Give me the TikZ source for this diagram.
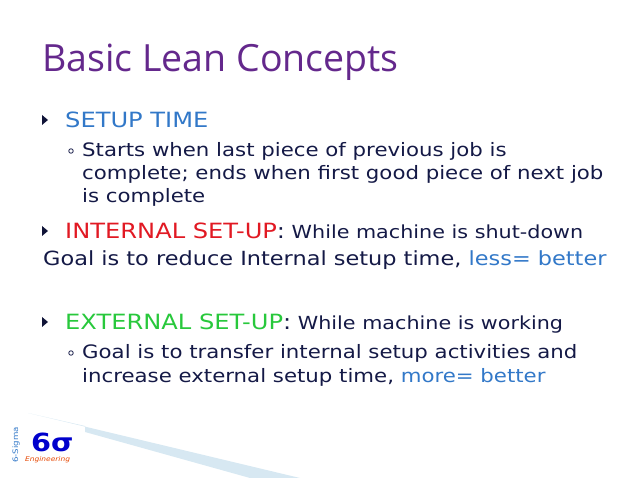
\documentclass[tikz,border=0pt]{standalone}
\usepackage{fontspec}
\setmainfont{DejaVu Sans}[FakeStretch=1.15]
\newfontfamily\titlefont{Open Sans}
\definecolor{ttl}{RGB}{100,40,140}
\definecolor{navy}{RGB}{20,25,70}
\definecolor{sblue}{RGB}{50,120,200}
\definecolor{sred}{RGB}{225,25,35}
\definecolor{sgreen}{RGB}{40,200,60}
\definecolor{swoosh}{RGB}{215,232,242}
\begin{document}
\begin{tikzpicture}[x=1pt,y=-1pt,
  big/.style={anchor=base west,inner sep=0,font=\fontsize{21}{26}\selectfont},
  sm/.style={anchor=base west,inner sep=0,font=\fontsize{18.5}{23}\selectfont,text=navy},
  arr/.style={fill=navy!80!black}]
\useasboundingbox (0,0) rectangle (638,478);
\fill[swoosh] (28,413) -- (300,478) -- (250,478) -- (85,432) -- (85,426) -- cycle;
\node[anchor=base west,inner sep=0,text=ttl,font=\titlefont\fontsize{37.5}{40}\selectfont] (title) at (42,72) {Basic Lean Concepts};
% bullets
\foreach \y/\n in {128/b1,239/b2,330/b3}{\fill[arr] (42,\y-13) -- (48,\y-8) -- (42,\y-3) -- cycle;}
\node[big,text=sblue] (t1) at (65,128) {SETUP TIME};
\node[draw=navy,circle,inner sep=0,minimum size=4.5pt,line width=0.8pt] (c1) at (71,151) {};
\node[sm] (s1) at (82,157) {Starts when last piece of previous job is};
\node[sm] (s2) at (82,180) {complete; ends when first good piece of next job};
\node[sm] (s3) at (82,203) {is complete};
\node[big] (t2) at (65,239) {\textcolor{sred}{INTERNAL SET-UP}\textcolor{navy}{:\fontsize{18}{20}\selectfont{} While machine is shut-down}};
\node[sm,font=\fontsize{19.5}{23}\selectfont] (s4) at (43,266) {Goal is to reduce Internal setup time, \textcolor{sblue}{less= better}};
\node[big] (t3) at (65,330) {\textcolor{sgreen}{EXTERNAL SET-UP}\textcolor{navy}{:\fontsize{18}{20}\selectfont{} While machine is working}};
\node[draw=navy,circle,inner sep=0,minimum size=4.5pt,line width=0.8pt] (c2) at (71,353) {};
\node[sm] (s5) at (82,359) {Goal is to transfer internal setup activities and};
\node[sm] (s6) at (82,383) {increase external setup time, \textcolor{sblue}{more= better}};
% logo
\node[rotate=90,inner sep=0,text=sblue,font=\fontsize{7.5}{7.5}\selectfont] (l1) at (16,445) {6-Sigma};
\node[anchor=base west,inner sep=0,text=blue!80!black,font=\bfseries\fontsize{25}{25}\selectfont] (l2) at (31,452) {6σ};
\node[anchor=base west,inner sep=0,text=orange!60!red!90!black,font=\itshape\fontsize{6.5}{7}\selectfont] (l3) at (25,462) {Engineering};
\end{tikzpicture}
\end{document}
